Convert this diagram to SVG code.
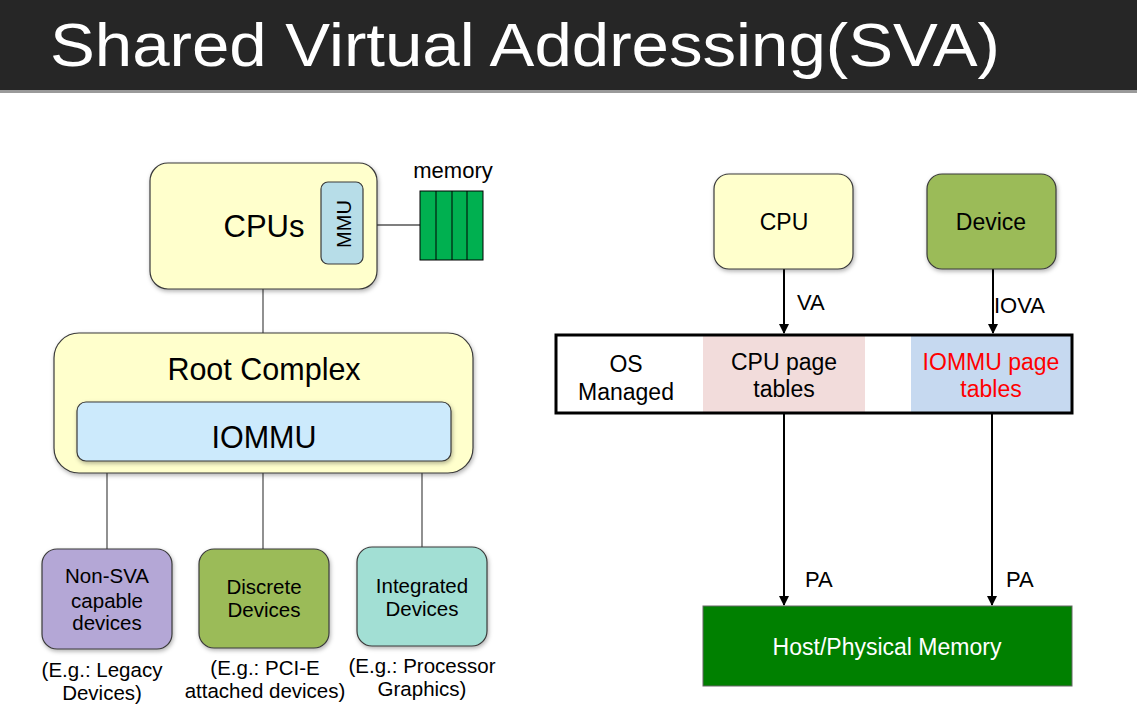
<svg xmlns="http://www.w3.org/2000/svg" width="1137" height="717" viewBox="0 0 1137 717">
<style>
text{font-family:"Liberation Sans",Arial,sans-serif;fill:#000}
.box{stroke:#3a3a3a;stroke-width:1.2}
.ln{stroke:#555;stroke-width:1.3;fill:none}
.arr{stroke:#000;stroke-width:2;fill:none;marker-end:url(#ah)}
.m{text-anchor:middle}
.dv{font-size:20.5px}
.rt{font-size:23px}
.lb{font-size:22px}
</style>
<defs>
<marker id="ah" viewBox="0 0 10 10" refX="9" refY="5" markerWidth="5" markerHeight="5" orient="auto"><path d="M0,0 L10,5 L0,10 z" fill="#000"/></marker>
<filter id="sh" x="-10%" y="-10%" width="125%" height="130%"><feDropShadow dx="1" dy="2" stdDeviation="2" flood-color="#000" flood-opacity="0.3"/></filter>
</defs>
<rect x="0" y="0" width="1137" height="717" fill="#fff"/>
<g id="header">
<rect x="0" y="0" width="1137" height="93" fill="#9a9a9a"/>
<rect x="0" y="0" width="1137" height="90" fill="#262626"/>
<text x="50" y="66" font-size="62" textLength="950" lengthAdjust="spacingAndGlyphs" style="fill:#fff">Shared Virtual Addressing(SVA)</text>
</g>
<g id="connectors">
<line class="ln" x1="377" y1="225" x2="420" y2="225"/>
<line class="ln" x1="263" y1="289" x2="263" y2="333"/>
<line class="ln" x1="107" y1="473" x2="107" y2="549"/>
<line class="ln" x1="263" y1="473" x2="263" y2="549"/>
<line class="ln" x1="422" y1="473" x2="422" y2="547"/>
<line class="arr" x1="784" y1="269" x2="784" y2="333"/>
<line class="arr" x1="993" y1="269" x2="993" y2="333"/>
<line class="arr" x1="784" y1="413" x2="784" y2="605"/>
<line class="arr" x1="992" y1="413" x2="992" y2="605"/>
<text class="lb" x="797" y="310">VA</text>
<text class="lb" x="994" y="313">IOVA</text>
<text class="lb" x="805" y="587">PA</text>
<text class="lb" x="1006" y="587">PA</text>
</g>
<g id="cpus">
<rect class="box" x="150" y="163" width="227" height="126" rx="18" fill="#ffffcc" filter="url(#sh)"/>
<text class="m" x="264" y="237" font-size="31">CPUs</text>
</g>
<g id="mmu">
<rect class="box" x="321" y="182" width="42" height="82" rx="7" fill="#b7dde8"/>
<text class="m" font-size="20" transform="translate(351,224) rotate(-90)">MMU</text>
</g>
<g id="memory">
<text class="m" x="453" y="178" font-size="22">memory</text>
<rect x="420" y="191" width="63" height="69" fill="#00b050" stroke="#000" stroke-width="1"/>
<line x1="436" y1="191" x2="436" y2="260" stroke="#000"/>
<line x1="452" y1="191" x2="452" y2="260" stroke="#000"/>
<line x1="467" y1="191" x2="467" y2="260" stroke="#000"/>
</g>
<g id="root-complex">
<rect class="box" x="54" y="333" width="419" height="140" rx="25" fill="#ffffcc" filter="url(#sh)"/>
<text class="m" x="264" y="380" font-size="30.5">Root Complex</text>
</g>
<g id="iommu">
<rect class="box" x="77" y="402" width="374" height="59" rx="9" fill="#cceafc" filter="url(#sh)"/>
<text class="m" x="264" y="448" font-size="30.5">IOMMU</text>
</g>
<g id="non-sva">
<rect class="box" x="42" y="549" width="130" height="100" rx="15" fill="#b4a7d6" filter="url(#sh)"/>
<text class="m dv" x="107" y="583">Non-SVA</text>
<text class="m dv" x="107" y="608">capable</text>
<text class="m dv" x="107" y="630">devices</text>
<text class="m dv" x="102" y="677">(E.g.: Legacy</text>
<text class="m dv" x="102" y="700">Devices)</text>
</g>
<g id="discrete">
<rect class="box" x="199" y="549" width="130" height="99" rx="15" fill="#9bbb59" filter="url(#sh)"/>
<text class="m dv" x="264" y="594">Discrete</text>
<text class="m dv" x="264" y="617">Devices</text>
<text class="m dv" x="265" y="675">(E.g.: PCI-E</text>
<text class="m dv" x="265" y="698">attached devices)</text>
</g>
<g id="integrated">
<rect class="box" x="357" y="547" width="130" height="99" rx="15" fill="#a2dfd4" filter="url(#sh)"/>
<text class="m dv" x="422" y="593">Integrated</text>
<text class="m dv" x="422" y="616">Devices</text>
<text class="m dv" x="422" y="673">(E.g.: Processor</text>
<text class="m dv" x="422" y="696">Graphics)</text>
</g>
<g id="cpu">
<rect class="box" x="714" y="174" width="139" height="95" rx="15" fill="#ffffcc" filter="url(#sh)"/>
<text class="m" x="784" y="230" font-size="23">CPU</text>
</g>
<g id="device">
<rect class="box" x="927" y="174" width="129" height="95" rx="15" fill="#9bbb59" filter="url(#sh)"/>
<text class="m" x="991" y="230" font-size="23">Device</text>
</g>
<g id="page-tables">
<rect x="703" y="335" width="162" height="77" fill="#f2dcdb"/>
<rect x="911" y="335" width="160" height="77" fill="#c6d9f0"/>
<rect x="556" y="335" width="516" height="78" fill="none" stroke="#000" stroke-width="3"/>
<text class="m rt" x="626" y="372">OS</text>
<text class="m rt" x="626" y="400">Managed</text>
<text class="m rt" x="784" y="370">CPU page</text>
<text class="m rt" x="784" y="397">tables</text>
<text class="m rt" x="991" y="370" style="fill:#ff0000">IOMMU page</text>
<text class="m rt" x="991" y="397" style="fill:#ff0000">tables</text>
</g>
<g id="host-memory">
<rect x="703" y="606" width="369" height="80" fill="#008000" stroke="#666" stroke-width="1"/>
<text class="m" x="887" y="655" font-size="23" style="fill:#fff">Host/Physical Memory</text>
</g>
</svg>
